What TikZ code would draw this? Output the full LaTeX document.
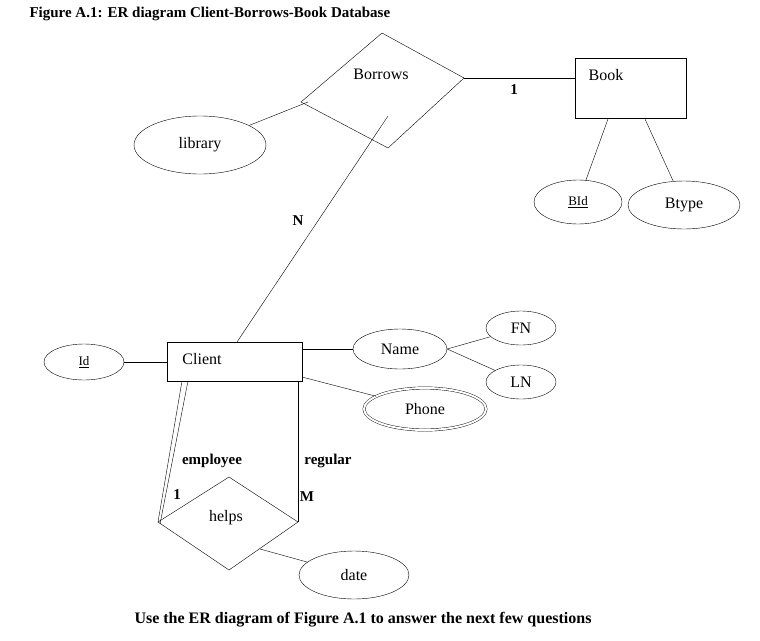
\documentclass[tikz,border=0pt]{standalone}
\usepackage{fontspec}
\setmainfont{Liberation Serif}
\usetikzlibrary{shapes.geometric}
\begin{document}
\begin{tikzpicture}[x=1pt,y=-1pt,
  ent/.style={draw,minimum width=#1,minimum height=39,inner sep=0},
  att/.style={draw,ellipse,inner sep=0},
  bl/.style={font=\bfseries\fontsize{15}{17}\selectfont},
  every node/.style={font=\fontsize{16}{18}\selectfont}]
\useasboundingbox (0,0) rectangle (760,640);
\node[bl,anchor=west] at (26,14) {Figure A.1: ER diagram Client-Borrows-Book Database};
\node[bl,font=\bfseries\fontsize{16}{18}\selectfont] at (363,620) {Use the ER diagram of Figure A.1 to answer the next few questions};

\coordinate (bt) at (382,33);
\coordinate (br) at (464,78);
\coordinate (bb) at (388,148);
\coordinate (bl) at (301,102);
\draw (bt) -- (br) -- (bb) -- (bl) -- cycle;
\node at (381,74) {Borrows};
\node[ent=111,minimum height=60] (book) at (630.5,88) {};
\node at (606,75) {Book};
\node[att,minimum width=132,minimum height=58] (library) at (200,145) {library};
\node[att,minimum width=88,minimum height=44] (bid) at (578,202) {\underline{\fontsize{13}{15}\selectfont BId}};
\node[att,minimum width=112,minimum height=48] (btype) at (684,205) {Btype};

\node[ent=135] (client) at (234.5,361.5) {};
\node at (202,359) {Client};
\node[att,minimum width=80,minimum height=36] (id) at (84,362) {\underline{\fontsize{13}{15}\selectfont Id}};
\node[att,minimum width=94,minimum height=40] (name) at (400,349) {Name};
\node[att,minimum width=70,minimum height=34] (fn) at (521,328) {FN};
\node[att,minimum width=70,minimum height=34] (ln) at (521,382) {LN};
\node[att,double,double distance=2pt,minimum width=122,minimum height=42] (phone) at (425,409) {Phone};
\coordinate (ht) at (229,477);
\coordinate (hl) at (158,522);
\coordinate (hr) at (298,522);
\coordinate (hb) at (229,570);
\draw (ht) -- (hr) -- (hb) -- (hl) -- cycle;
\node at (226,518) {helps};
\node[att,minimum width=110,minimum height=48] (date) at (354,575) {date};

\coordinate (bs) at (388,116);
\coordinate (cn) at (237,342);
\coordinate (b1) at (608,119);
\coordinate (b2) at (645,119);
\coordinate (e1) at (182,381);
\coordinate (e2) at (188,381);
\coordinate (hl2) at (160,524);
\coordinate (r1) at (298,381);
\coordinate (hd) at (260,549);
\coordinate (cp) at (302,377);
\coordinate (bl2) at (308,102);

\draw (br) -- (book.west |- br);
\node[bl] at (514,90) {1};
\draw (library) -- (bl2);
\draw (b1) -- (bid);
\draw (b2) -- (btype);
\draw (bs) -- (cn);
\node[bl] at (298,221) {N};
\draw (id) -- (client.west |- id);
\draw (client.east |- name) -- (name);
\draw (name.east) -- (fn);
\draw (name.east) -- (ln);
\draw (cp) -- (phone);
\draw (e1) -- (hl);
\draw (e2) -- (hl2);
\draw (r1) -- (hr);
\draw (hd) -- (date);
\node[bl] at (212,461) {employee};
\node[bl] at (328,461) {regular};
\node[bl] at (177,495) {1};
\node[bl] at (307,497) {M};
\end{tikzpicture}
\end{document}
